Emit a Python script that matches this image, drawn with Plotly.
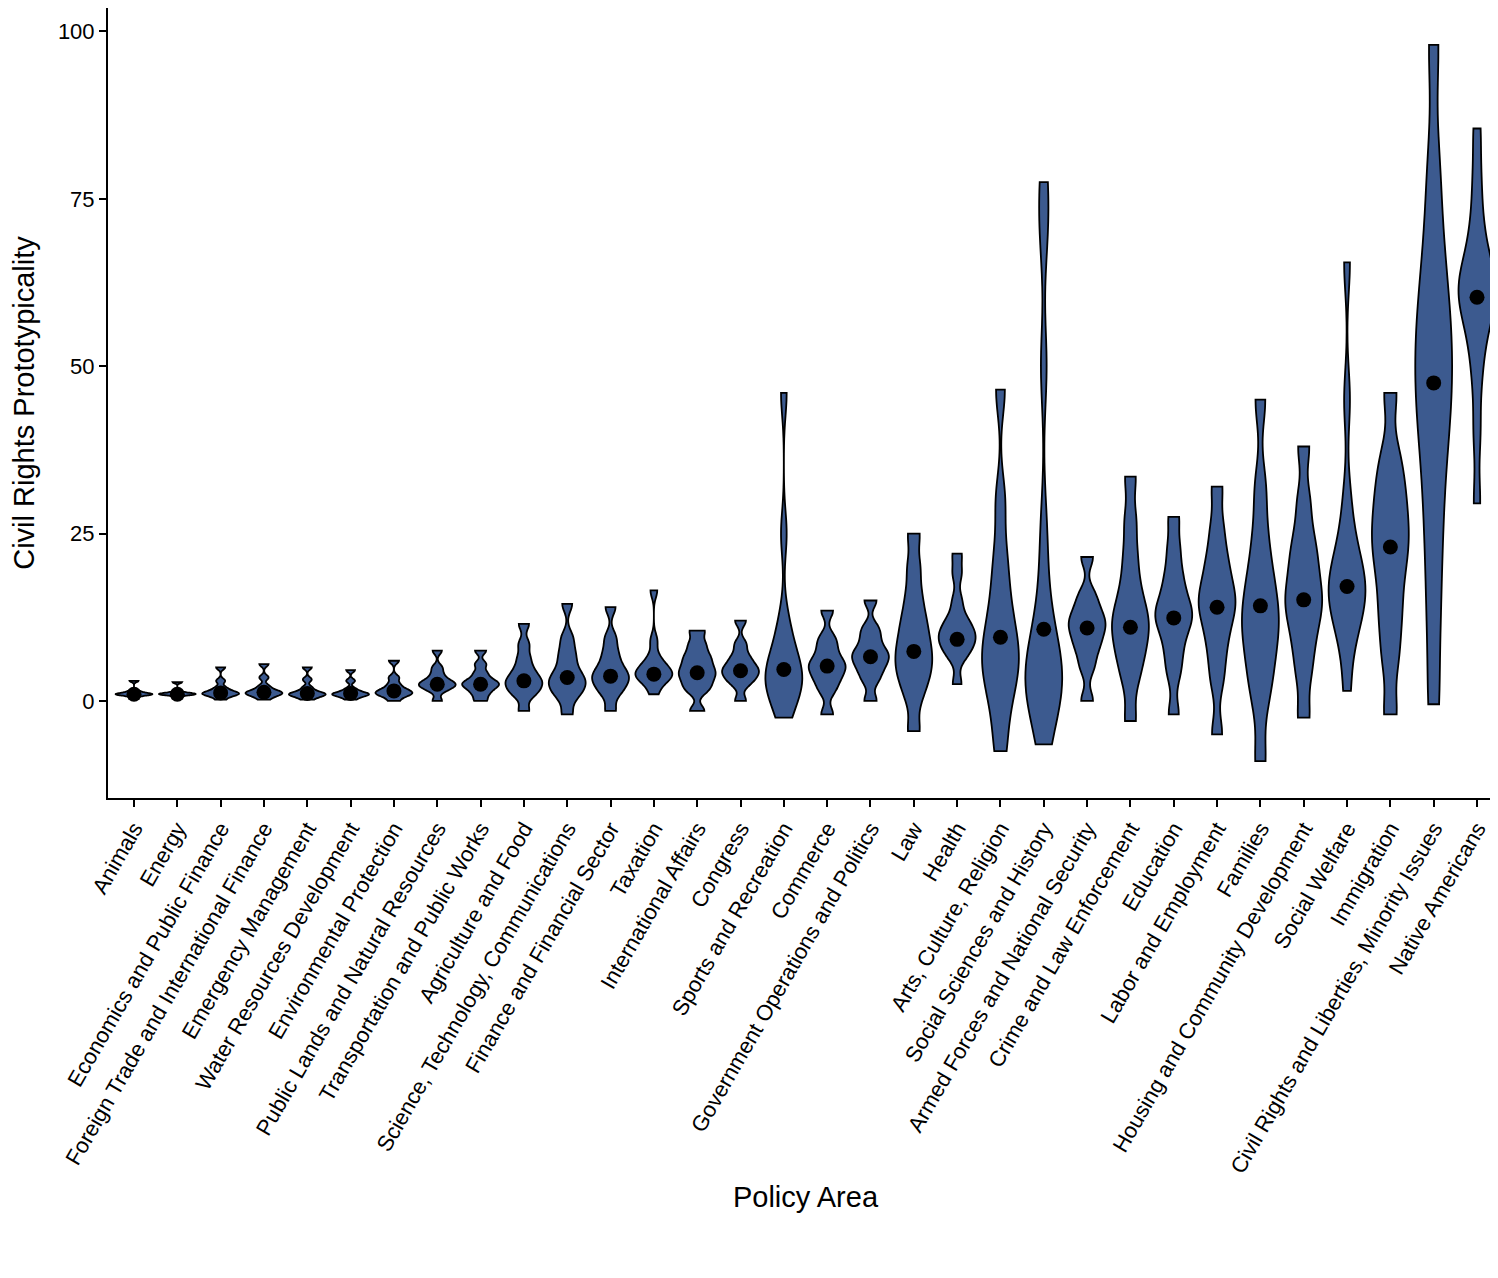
import plotly.graph_objs as go

areas = ["Animals", "Energy", "Economics and Public Finance", "Foreign Trade and International Finance",
         "Emergency Management", "Water Resources Development", "Environmental Protection",
         "Public Lands and Natural Resources", "Transportation and Public Works", "Agriculture and Food",
         "Science, Technology, Communications", "Finance and Financial Sector", "Taxation",
         "International Affairs", "Congress", "Sports and Recreation", "Commerce",
         "Government Operations and Politics", "Law", "Health", "Arts, Culture, Religion",
         "Social Sciences and History", "Armed Forces and National Security", "Crime and Law Enforcement",
         "Education", "Labor and Employment", "Families", "Housing and Community Development",
         "Social Welfare", "Immigration", "Civil Rights and Liberties, Minority Issues", "Native Americans"]

# estimated observations per policy area
samples = [
    [0.3, 0.8, 1, 1, 1, 1.2, 1.5, 3],
    [0.4, 0.9, 1, 1, 1.1, 1.3, 2.8],
    [0.2, 0.8, 1, 1.1, 1.2, 1.5, 2, 3, 5],
    [0.2, 0.8, 1, 1.2, 1.3, 1.6, 2.2, 3.5, 5.5],
    [0.2, 0.7, 0.9, 1, 1.1, 1.4, 2, 3.2, 5],
    [0.2, 0.7, 0.9, 1, 1.1, 1.3, 1.8, 3, 4.6],
    [0, 0.8, 1, 1.2, 1.5, 1.8, 2.5, 3.5, 6],
    [0, 1.5, 2, 2.3, 2.5, 2.8, 3.2, 4, 5, 7.5],
    [0, 1, 1.7, 2.2, 2.5, 2.8, 3.3, 4.2, 5.5, 7.5],
    [-1.5, 0.8, 1.5, 2.2, 2.8, 3.2, 4, 5, 6.5, 8.5, 11.5],
    [-2, 0.5, 1.5, 2.2, 3, 3.5, 4.5, 6, 7.5, 9.5, 14.5],
    [-1.5, 1, 2, 2.8, 3.5, 4, 4.8, 6, 7.5, 9.5, 14],
    [1, 2.8, 3.3, 3.7, 4, 4.3, 4.8, 5.5, 6.5, 9, 16.5],
    [-1.5, 1.5, 2.5, 3.5, 4.2, 5, 6, 7, 8.5, 10.5],
    [0, 2.5, 3.3, 4, 4.5, 5, 5.8, 6.8, 8.5, 12],
    [-2.5, 0.5, 1.5, 2.5, 3.5, 4, 5, 6.5, 9, 12, 25, 46],
    [-2, 1.5, 3, 4, 5, 5.5, 6.5, 8, 9.5, 13.5],
    [0, 3, 4.5, 5.5, 6.5, 7, 8, 9.5, 11, 15],
    [-4.5, 0.5, 3, 4.5, 6, 7.5, 9, 11, 13, 16, 20, 25],
    [2.5, 6.5, 7.5, 8.5, 9.2, 9.8, 10.5, 11.5, 12.5, 15, 19, 22],
    [-7.5, -2, 2, 4, 6, 8, 10, 13, 17, 22, 30, 46.5],
    [-6.5, -1, 1.5, 2.5, 3.5, 4.5, 6, 10, 15, 25, 50, 70, 77.5],
    [0, 5, 7.5, 9, 10.5, 11.5, 12.5, 14, 16, 21.5],
    [-3, 3, 6, 8, 10, 11.5, 13, 15, 18, 22, 27, 33.5],
    [-2, 4, 7, 9.5, 11.5, 12.5, 13.5, 15, 17, 19.5, 23, 27.5],
    [-5, 3, 7, 10, 12.5, 14, 15.5, 17, 19.5, 22, 26, 32],
    [-9, 0, 4, 7, 10, 12, 14, 17, 20, 25, 32, 45],
    [-2.5, 4, 8, 11, 13.5, 15, 17, 19.5, 22, 25, 30, 38],
    [1.5, 9, 12, 14, 15.5, 16.5, 17.5, 19, 21, 24, 30, 45, 65.5],
    [-2, 6, 11, 15, 19, 22, 24.5, 27, 30, 33, 37, 46],
    [-0.5, 12, 22, 30, 37, 42, 46, 50, 54, 58, 63, 70, 80, 98],
    [29.5, 40, 48, 53, 56, 58.5, 60, 61, 62, 63.5, 65, 68, 72, 78, 85.5],
]

means = [1, 1, 1.2, 1.3, 1.1, 1.1, 1.5, 2.5, 2.5, 3, 3.5, 3.7, 4, 4.2, 4.5, 4.7,
         5.2, 6.6, 7.4, 9.2, 9.5, 10.7, 10.9, 11, 12.4, 14, 14.2, 15.1, 17.1, 23, 47.5, 60.3]

fig = go.Figure()
for name, vals in zip(areas, samples):
    bw = 0.07 * (max(vals) - min(vals))
    fig.add_trace(go.Violin(x=[name] * len(vals), y=vals, fillcolor='#3C5A8F', opacity=1,
                            line=dict(color='black', width=1.8), points=False, width=0.85,
                            spanmode='hard', bandwidth=bw, scalemode='width', showlegend=False,
                            box_visible=False, meanline_visible=False, hoverinfo='skip'))

fig.add_trace(go.Scatter(x=areas, y=means, mode='markers',
                         marker=dict(color='black', size=15), showlegend=False))

fig.update_layout(
    width=1498, height=1278,
    margin=dict(l=100, r=3, t=0, b=488),
    plot_bgcolor='white', paper_bgcolor='white',
    font=dict(family='Liberation Sans, Arial', size=22, color='black'),
    violingap=0.1,
)
fig.update_xaxes(title=dict(text='Policy Area', font=dict(size=29), standoff=10), tickangle=-60,
                 showline=True, linecolor='black', linewidth=2, ticks='outside',
                 tickcolor='black', ticklen=7, tickwidth=1.5, showgrid=False,
                 categoryorder='array', categoryarray=areas, range=[-0.6, 31.6])
fig.update_yaxes(title=dict(text='Civil Rights Prototypicality', font=dict(size=29)),
                 range=[-14.5, 103.5], tickvals=[0, 25, 50, 75, 100],
                 showline=True, linecolor='black', linewidth=2, ticks='outside',
                 tickcolor='black', ticklen=7, tickwidth=1.5, showgrid=False, zeroline=False)

fig.write_html("out.html")
